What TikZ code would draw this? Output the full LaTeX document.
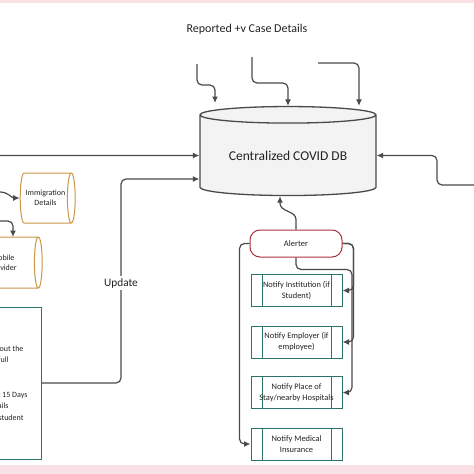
\documentclass[tikz,border=0pt]{standalone}
\usepackage{fontspec}
\setmainfont{Carlito}
\usetikzlibrary{shapes.geometric,arrows.meta}
\definecolor{linegray}{HTML}{4A4A4A}
\definecolor{dbfill}{HTML}{F3F3F3}
\definecolor{alertred}{HTML}{A8323C}
\definecolor{tealbox}{HTML}{2D7369}
\definecolor{goldbox}{HTML}{C89646}
\definecolor{pinkband}{HTML}{FAE1E6}
\definecolor{txt}{HTML}{222222}

\begin{document}
\begin{tikzpicture}[x=1pt,y=-1pt,
  conn/.style={draw=linegray,line width=1.2pt,rounded corners=5pt,-{Latex[length=6.5pt,width=6pt]}},
  db/.style={cylinder,shape border rotate=90,draw=linegray,line width=1.3pt,fill=dbfill,
    minimum width=176,minimum height=89,aspect=0.14,inner sep=0pt,text=txt,
    font=\fontsize{13.5}{15}\selectfont},
  store/.style={cylinder,draw=goldbox,line width=1pt,fill=white,aspect=0.5,inner sep=0pt,
    align=center,text=txt,font=\fontsize{8}{10}\selectfont},
  notify/.style={rectangle,draw=tealbox,line width=1pt,fill=white,minimum width=91,
    minimum height=32,inner sep=1pt,align=center,text=txt,font=\fontsize{8.4}{11}\selectfont,
    path picture={
      \draw[tealbox,line width=1pt] ([xshift=11pt]path picture bounding box.north west) -- ([xshift=11pt]path picture bounding box.south west);
      \draw[tealbox,line width=1pt] ([xshift=-11pt]path picture bounding box.north east) -- ([xshift=-11pt]path picture bounding box.south east);}},
  lbl/.style={text=txt,font=\fontsize{8}{10}\selectfont}
]
\useasboundingbox (0,0) rectangle (474,474);
\fill[pinkband] (0,0) rectangle (474,3); % top band
\fill[pinkband] (0,465) rectangle (474,474); % bottom band

% title and database
\node[text=txt,font=\fontsize{12}{14}\selectfont] (title) at (247,29) {Reported +v Case Details};
\node[db] (db) at (288,155.5) {Centralized COVID DB};

% sources on the left
\node[store,minimum width=50,minimum height=55] (immig) at (45.5,198) {Immigration\\Details};
\node[store,minimum width=51,minimum height=74] (mobile) at (3,262.5) {Mobile\\Provider};
\node[rectangle,draw=tealbox,line width=1pt,minimum width=110,minimum height=152] (details) at (-14,383) {};
\node[lbl,anchor=east] (d1) at (27,349) {Details about the};
\node[lbl,anchor=east] (d2) at (12,360) {Patient in full};
\node[lbl,anchor=east] (d3) at (3,383) {Contacts};
\node[lbl,anchor=east] (d4) at (31,395) {Visited in last 15 Days};
\node[lbl,anchor=east] (d5) at (12,406) {Travel Details};
\node[lbl,anchor=east] (d6) at (27,418) {Student/Non-student};

% alerter and notifications
\node[rectangle,rounded corners=10pt,draw=alertred,line width=1pt,fill=white,minimum width=92,
  minimum height=27,text=txt,font=\fontsize{8.5}{10}\selectfont] (alerter) at (296,243.5) {Alerter};
\node[notify] (inst) at (296.5,290.5) {Notify Institution (if\\Student)};
\node[notify] (emp) at (296.5,342) {Notify Employer (if\\employee)};
\node[notify] (stay) at (296.5,392.5) {Notify Place of\\Stay/nearby Hospitals};
\node[notify] (medical) at (296.5,444) {Notify Medical\\Insurance};

% free ends
\coordinate (top1) at (197,64);
\coordinate (top2) at (252,57);
\coordinate (top3) at (318,63);
\coordinate (tip1) at (215,103);
\coordinate (lin) at (0,155.5);
\coordinate (rin) at (474,185);
\coordinate (imin) at (0,192);
\coordinate (mbin) at (0,221);

% reported cases
\draw[conn] (top1) -- (197,85) -- (215,85) -- (tip1);
\draw[conn] (top2) -- (252,83) -- (288,83) -- (db.north);
\draw[conn] (top3) -- (359,63) -- (db.north -| 359,0);

% into the database
\draw[conn] (lin) -- (db.west);
\draw[conn] (rin) -- (437,185) -- (437,155.5) -- (db.east);
\draw[conn] (details.east) -- (121,383) -- (121,179) -- ([yshift=-23.5pt]db.west);
\node[fill=white,text=txt,font=\fontsize{11.3}{13}\selectfont,inner sep=2pt] (upd) at (121,283) {Update};
\draw[conn,rounded corners=0pt] (alerter.north) -- ++(0,-10) to[out=90,in=-90] ([xshift=-8pt,yshift=-7pt]db.south) -- ([xshift=-8pt]db.south);

% left sources
\draw[conn] (imin) to[out=0,in=180] (immig.west);
\draw[conn] (mbin) -- (13,221) -- (13,237);

% alerter fan out
\draw[conn] (alerter.east) -- ++(11,0) |- (inst.east);
\draw[conn] (alerter.east) -- ++(11,0) |- (emp.east);
\draw[conn] (alerter.south) -- ++(0,12) -- ++(56,0) |- (stay.east);
\draw[conn] (alerter.west) -| ([xshift=-11pt]medical.west) -- (medical.west);
\end{tikzpicture}
\end{document}
